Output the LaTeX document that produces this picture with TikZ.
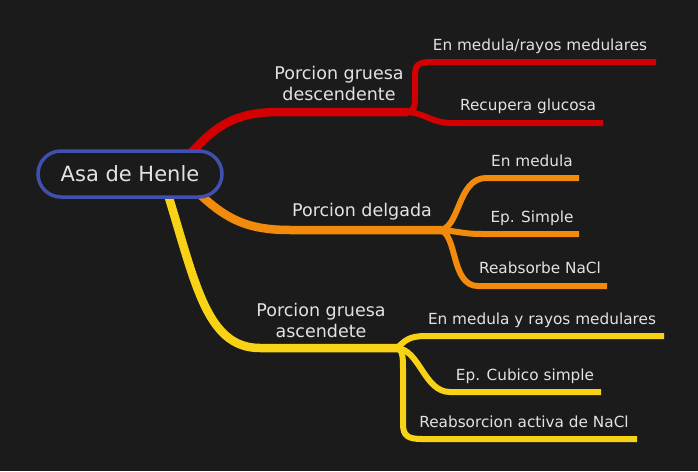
\documentclass[tikz,border=0pt]{standalone}
\usepackage{fontspec}
\setmainfont{DejaVu Sans}
\definecolor{bg}{HTML}{1B1B1B}
\definecolor{txt}{HTML}{E2E2E2}
\definecolor{cred}{HTML}{D20000}
\definecolor{corange}{HTML}{F28A0C}
\definecolor{cyellow}{HTML}{F8D214}
\definecolor{cblue}{HTML}{4150AE}
\begin{document}
\begin{tikzpicture}[x=1pt,y=-1pt,
  mainline/.style={line width=8.5pt},
  leafline/.style={line width=6pt},
  maintxt/.style={text=txt,font=\fontsize{17.5}{21}\selectfont,align=center,inner sep=0pt},
  leaftxt/.style={text=txt,font=\fontsize{15.3}{18}\selectfont,inner sep=0pt},
  rootbox/.style={draw=cblue,line width=3.5pt,fill=bg,rounded corners=23pt,minimum width=184pt,minimum height=46pt,text=txt,font=\fontsize{21}{25}\selectfont}]
\fill[bg] (0,0) rectangle (698,471);
\useasboundingbox (0,0) rectangle (698,471);
% coordinates
\coordinate (r0) at (185,160);
\coordinate (rj) at (408,112);
\coordinate (o0) at (185,180);
\coordinate (oj) at (442,230);
\coordinate (y0) at (165,185);
\coordinate (yj) at (400,348);
% red branch
\draw[cred,mainline] (r0) .. controls (215,125) and (235,112) .. (280,112) -- (rj);
\draw[cred,leafline] ([xshift=-4pt]rj) .. controls (414,112) and (415,108) .. (415,96) -- (415,76) .. controls (415,65) and (418,62) .. (432,62) -- (656,62);
\draw[cred,leafline] ([xshift=-4pt]rj) .. controls (425,112) and (430,123) .. (452,123) -- (603,123);
% orange branch
\draw[corange,mainline] (o0) .. controls (220,215) and (240,230) .. (290,230) -- (oj);
\draw[corange,leafline] ([xshift=-3pt]oj) .. controls (460,230) and (457,178) .. (486,178) -- (579,178);
\draw[corange,leafline] ([xshift=-3pt]oj) .. controls (458,231) and (462,234) .. (482,234) -- (579,234);
\draw[corange,leafline] ([xshift=-3pt]oj) .. controls (458,232) and (450,286) .. (478,286) -- (607,286);
% yellow branch
\draw[cyellow,mainline] (y0) .. controls (195,280) and (205,348) .. (260,348) -- (yj);
\draw[cyellow,leafline] ([xshift=-3pt]yj) .. controls (405,341) and (408,336) .. (426,336) -- (664,336);
\draw[cyellow,leafline] ([xshift=-3pt]yj) .. controls (420,350) and (424,392) .. (450,392) -- (601,392);
\draw[cyellow,leafline] ([xshift=-3pt]yj) .. controls (403,350) and (403,358) .. (403,370) -- (403,424) .. controls (403,436) and (408,439) .. (422,439) -- (637,439);
% root
\node[rootbox] (root) at (130,174) {Asa de Henle};
% labels
\node[maintxt] (pgd) at (339,83) {Porcion gruesa\\descendente};
\node[maintxt] (pdel) at (362,212) {Porcion delgada};
\node[maintxt] (pga) at (321,320) {Porcion gruesa\\ascendete};
\node[leaftxt] (l1) at (540,46) {En medula/rayos medulares};
\node[leaftxt] (l2) at (528,106) {Recupera glucosa};
\node[leaftxt] (l3) at (532,161) {En medula};
\node[leaftxt] (l4) at (532,218) {Ep. Simple};
\node[leaftxt] (l5) at (540,268) {Reabsorbe NaCl};
\node[leaftxt] (l6) at (542,320) {En medula y rayos medulares};
\node[leaftxt] (l7) at (525,376) {Ep. Cubico simple};
\node[leaftxt] (l8) at (524,422) {Reabsorcion activa de NaCl};
\end{tikzpicture}
\end{document}
